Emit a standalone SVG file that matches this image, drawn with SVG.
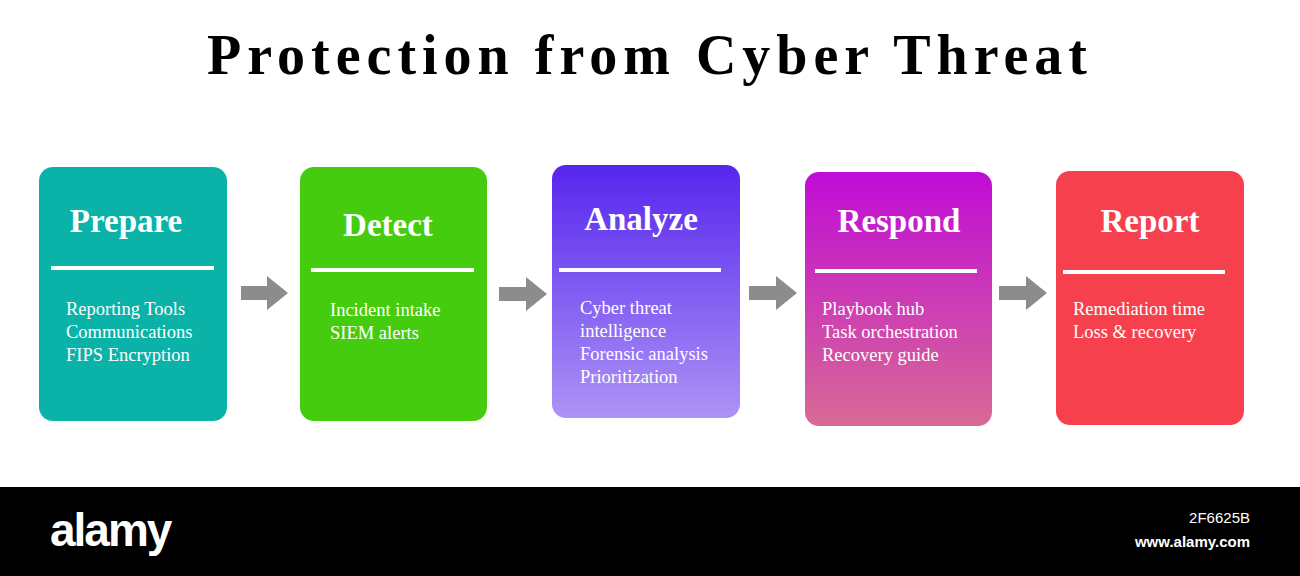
<svg xmlns="http://www.w3.org/2000/svg" width="1300" height="576" viewBox="0 0 1300 576">
<style>
.t{font-family:"Liberation Serif",serif;font-weight:bold;fill:#fff;font-size:33px;text-anchor:middle}
.b{font-family:"Liberation Serif",serif;fill:#fff;font-size:18.5px}
.u{stroke:#fff;stroke-width:4}
.ar{fill:#8c8c8c}
</style>
<defs>
<linearGradient id="ga" x1="0" y1="0" x2="0" y2="1"><stop offset="0" stop-color="#5626ee"/><stop offset="1" stop-color="#ad93f6"/></linearGradient>
<linearGradient id="gr" x1="0" y1="0" x2="0" y2="1"><stop offset="0" stop-color="#c00cd6"/><stop offset="1" stop-color="#d86a94"/></linearGradient>
</defs>
<rect width="1300" height="576" fill="#fff"/>
<text x="650" y="74" font-family="Liberation Serif,serif" font-weight="bold" font-size="56" letter-spacing="6" text-anchor="middle">Protection from Cyber Threat</text>
<g id="prepare"><rect x="39" y="167" width="188" height="254" rx="14" fill="#0bb2a8"/><text class="t" x="126" y="232">Prepare</text><line class="u" x1="51" y1="268" x2="214" y2="268"/><text class="b" x="66" y="315">Reporting Tools</text><text class="b" x="66" y="338">Communications</text><text class="b" x="66" y="361">FIPS Encryption</text></g>
<g id="detect"><rect x="300" y="167" width="187" height="254" rx="14" fill="#45cc0f"/><text class="t" x="388" y="236">Detect</text><line class="u" x1="311" y1="270" x2="474" y2="270"/><text class="b" x="330" y="316">Incident intake</text><text class="b" x="330" y="339">SIEM alerts</text></g>
<g id="analyze"><rect x="552" y="165" width="188" height="253" rx="14" fill="url(#ga)"/><text class="t" x="641" y="230">Analyze</text><line class="u" x1="559" y1="270" x2="721" y2="270"/><text class="b" x="580" y="314">Cyber threat</text><text class="b" x="580" y="337">intelligence</text><text class="b" x="580" y="360">Forensic analysis</text><text class="b" x="580" y="383">Prioritization</text></g>
<g id="respond"><rect x="805" y="172" width="187" height="254" rx="14" fill="url(#gr)"/><text class="t" x="899" y="232">Respond</text><line class="u" x1="815" y1="271" x2="977" y2="271"/><text class="b" x="822" y="315">Playbook hub</text><text class="b" x="822" y="338">Task orchestration</text><text class="b" x="822" y="361">Recovery guide</text></g>
<g id="report"><rect x="1056" y="171" width="188" height="254" rx="14" fill="#f6404d"/><text class="t" x="1150" y="232">Report</text><line class="u" x1="1063" y1="272" x2="1225" y2="272"/><text class="b" x="1073" y="315">Remediation time</text><text class="b" x="1073" y="338">Loss &amp; recovery</text></g>
<g id="connectors">
<polygon class="ar" points="241,286 267,286 267,276 288,293 267,310 267,300 241,300"/>
<polygon class="ar" points="499,287 526,287 526,277 547,294 526,311 526,301 499,301"/>
<polygon class="ar" points="749,286 776,286 776,276 797,293 776,310 776,300 749,300"/>
<polygon class="ar" points="999,286 1026,286 1026,276 1047,293 1026,310 1026,300 999,300"/>
</g>
<rect x="0" y="487" width="1300" height="89" fill="#000"/>
<text x="50" y="546" font-family="Liberation Sans,sans-serif" font-weight="bold" font-size="46" fill="#fff" letter-spacing="-2">alamy</text>
<text x="1250" y="523" font-family="Liberation Sans,sans-serif" font-size="15" fill="#fff" text-anchor="end">2F6625B</text>
<text x="1250" y="547" font-family="Liberation Sans,sans-serif" font-weight="bold" font-size="15" fill="#fff" text-anchor="end">www.alamy.com</text>
</svg>
